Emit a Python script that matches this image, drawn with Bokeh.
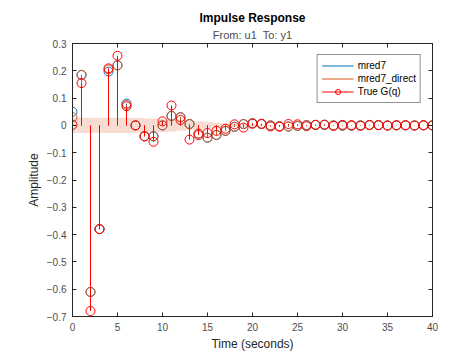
from bokeh.plotting import figure
from bokeh.models import Title, LinearAxis, Legend, LegendItem, FixedTicker, ColumnDataSource, CustomJSTickFormatter
from bokeh.embed import file_html
from bokeh.resources import INLINE

# ---- data ----
t = list(range(0, 41))
true_g = [0.002, 0.155, -0.68, -0.38, 0.209, 0.255, 0.07, 0.0, -0.04, -0.06,
          0.015, 0.073, 0.02, -0.052, -0.035, -0.028, -0.02, -0.012, 0.004, -0.008,
          0.006, 0.006, -0.004, -0.005, 0.005, 0.004, -0.003, 0.002, 0.003, -0.002,
          0.002, 0.001, -0.002, 0.002, 0.001, -0.001, 0.001, 0.001, -0.001, 0.001, 0.0]
mred7 = [0.05, 0.185, -0.61, -0.38, 0.197, 0.22, 0.08, 0.0, -0.04, -0.04,
         0.0, 0.035, 0.03, 0.005, -0.03, -0.045, -0.035, -0.02, -0.005, 0.005,
         0.008, 0.005, 0.0, -0.003, -0.004, -0.002, 0.001, 0.002, 0.002, 0.0,
         -0.001, -0.001, 0.0, 0.001, 0.001, 0.0, 0.0, 0.0, 0.0, 0.0, 0.0]
mred7_direct = [0.03, 0.185, -0.61, -0.38, 0.205, 0.22, 0.075, 0.0, -0.04, -0.04,
                0.0, 0.035, 0.03, 0.005, -0.03, -0.045, -0.035, -0.02, -0.005, 0.005,
                0.008, 0.005, 0.0, -0.003, -0.004, -0.002, 0.001, 0.002, 0.002, 0.0,
                -0.001, -0.001, 0.0, 0.001, 0.001, 0.0, 0.0, 0.0, 0.0, 0.0, 0.0]
band_halfwidth = [0.028, 0.028, 0.028, 0.028, 0.028, 0.028, 0.028, 0.027, 0.026, 0.025,
                  0.024, 0.022, 0.020, 0.018, 0.016, 0.013, 0.010, 0.008, 0.006, 0.004,
                  0.003, 0.002, 0.001, 0.0, 0.0, 0.0, 0.0, 0.0, 0.0, 0.0,
                  0.0, 0.0, 0.0, 0.0, 0.0, 0.0, 0.0, 0.0, 0.0, 0.0, 0.0]
x_ticks = [0, 5, 10, 15, 20, 25, 30, 35, 40]
y_ticks = [0.3, 0.2, 0.1, 0.0, -0.1, -0.2, -0.3, -0.4, -0.5, -0.6, -0.7]

BLUE = "#0072BD"
ORANGE = "#D95319"
RED = "#FF0000"
AX = "#262626"
TICK_TXT = "#4d4d4d"
FONT = "Liberation Sans"

p = figure(width=474, height=355, output_backend="svg", toolbar_location=None,
           x_range=(0, 40), y_range=(-0.7, 0.3),
           min_border_left=72, min_border_right=42, min_border_top=43, min_border_bottom=39)
p.xgrid.visible = False
p.ygrid.visible = False
p.background_fill_color = "white"
p.outline_line_color = AX

src = ColumnDataSource(dict(t=t, g=true_g, m=mred7, d=mred7_direct,
                            lo=[-h for h in band_halfwidth], hi=band_halfwidth,
                            z=[0.0] * len(t)))

p.varea(x="t", y1="lo", y2="hi", source=src, fill_color=ORANGE, fill_alpha=0.2)

seg_b = p.segment(x0="t", y0="z", x1="t", y1="m", source=src, line_color=BLUE, line_width=1)
sc_b = p.scatter(x="t", y="m", source=src, marker="circle", size=9, fill_color=None,
                 line_color=BLUE, line_width=1)
seg_o = p.segment(x0="t", y0="z", x1="t", y1="d", source=src, line_color=ORANGE, line_width=1)
sc_o = p.scatter(x="t", y="d", source=src, marker="circle", size=9, fill_color=None,
                 line_color=ORANGE, line_width=1)
seg_r = p.segment(x0="t", y0="z", x1="t", y1="g", source=src, line_color=RED, line_width=1)
sc_r = p.scatter(x="t", y="g", source=src, marker="circle", size=9, fill_color=None,
                 line_color=RED, line_width=1)

# axes styling
for ax in (p.xaxis[0], p.yaxis[0]):
    ax.major_tick_in = 4
    ax.major_tick_out = 0
    ax.minor_tick_in = 0
    ax.minor_tick_out = 0
    ax.axis_line_color = AX
    ax.major_tick_line_color = AX
    ax.major_label_text_color = TICK_TXT
    ax.major_label_text_font = FONT
    ax.major_label_text_font_size = "10px"
    ax.axis_label_text_font = FONT
    ax.axis_label_text_font_size = "12px"
    ax.axis_label_text_font_style = "normal"
    ax.axis_label_text_color = AX
    ax.axis_label_standoff = 3
p.xaxis[0].ticker = FixedTicker(ticks=x_ticks)
p.yaxis[0].ticker = FixedTicker(ticks=y_ticks)
p.xaxis[0].axis_label = "Time (seconds)"
p.yaxis[0].axis_label = "Amplitude"
p.xaxis[0].major_label_standoff = 6
p.yaxis[0].major_label_standoff = 6

blank = CustomJSTickFormatter(code="return ''")
top = LinearAxis(ticker=FixedTicker(ticks=x_ticks), formatter=blank,
                 major_label_standoff=0,
                 major_tick_in=4, major_tick_out=0, minor_tick_in=0, minor_tick_out=0,
                 axis_line_color=AX, major_tick_line_color=AX)
right = LinearAxis(ticker=FixedTicker(ticks=y_ticks), formatter=blank,
                   major_label_standoff=0,
                   major_tick_in=4, major_tick_out=0, minor_tick_in=0, minor_tick_out=0,
                   axis_line_color=AX, major_tick_line_color=AX)
p.add_layout(top, "above")
p.add_layout(right, "right")

legend = Legend(items=[
    LegendItem(label="mred7", renderers=[seg_b]),
    LegendItem(label="mred7_direct", renderers=[seg_o]),
    LegendItem(label="True G(q)", renderers=[seg_r, sc_r]),
], location="top_right", margin=11, padding=4, spacing=0,
   glyph_width=32, glyph_height=13, label_standoff=4,
   label_text_font=FONT, label_text_font_size="10px", label_text_color="#000000",
   border_line_color=AX, border_line_width=1, background_fill_color="white",
   background_fill_alpha=1.0)
p.add_layout(legend, "center")

p.add_layout(Title(text="From: u1\u00a0 To: y1", align="center", standoff=5,
                   text_font=FONT, text_font_size="11px", text_font_style="normal",
                   text_color="#4d4d4d"), "above")
p.add_layout(Title(text="Impulse Response", align="center", standoff=0,
                   text_font=FONT, text_font_size="12px", text_font_style="bold",
                   text_color="#000000"), "above")

open("out.html", "w").write(file_html(p, INLINE))
